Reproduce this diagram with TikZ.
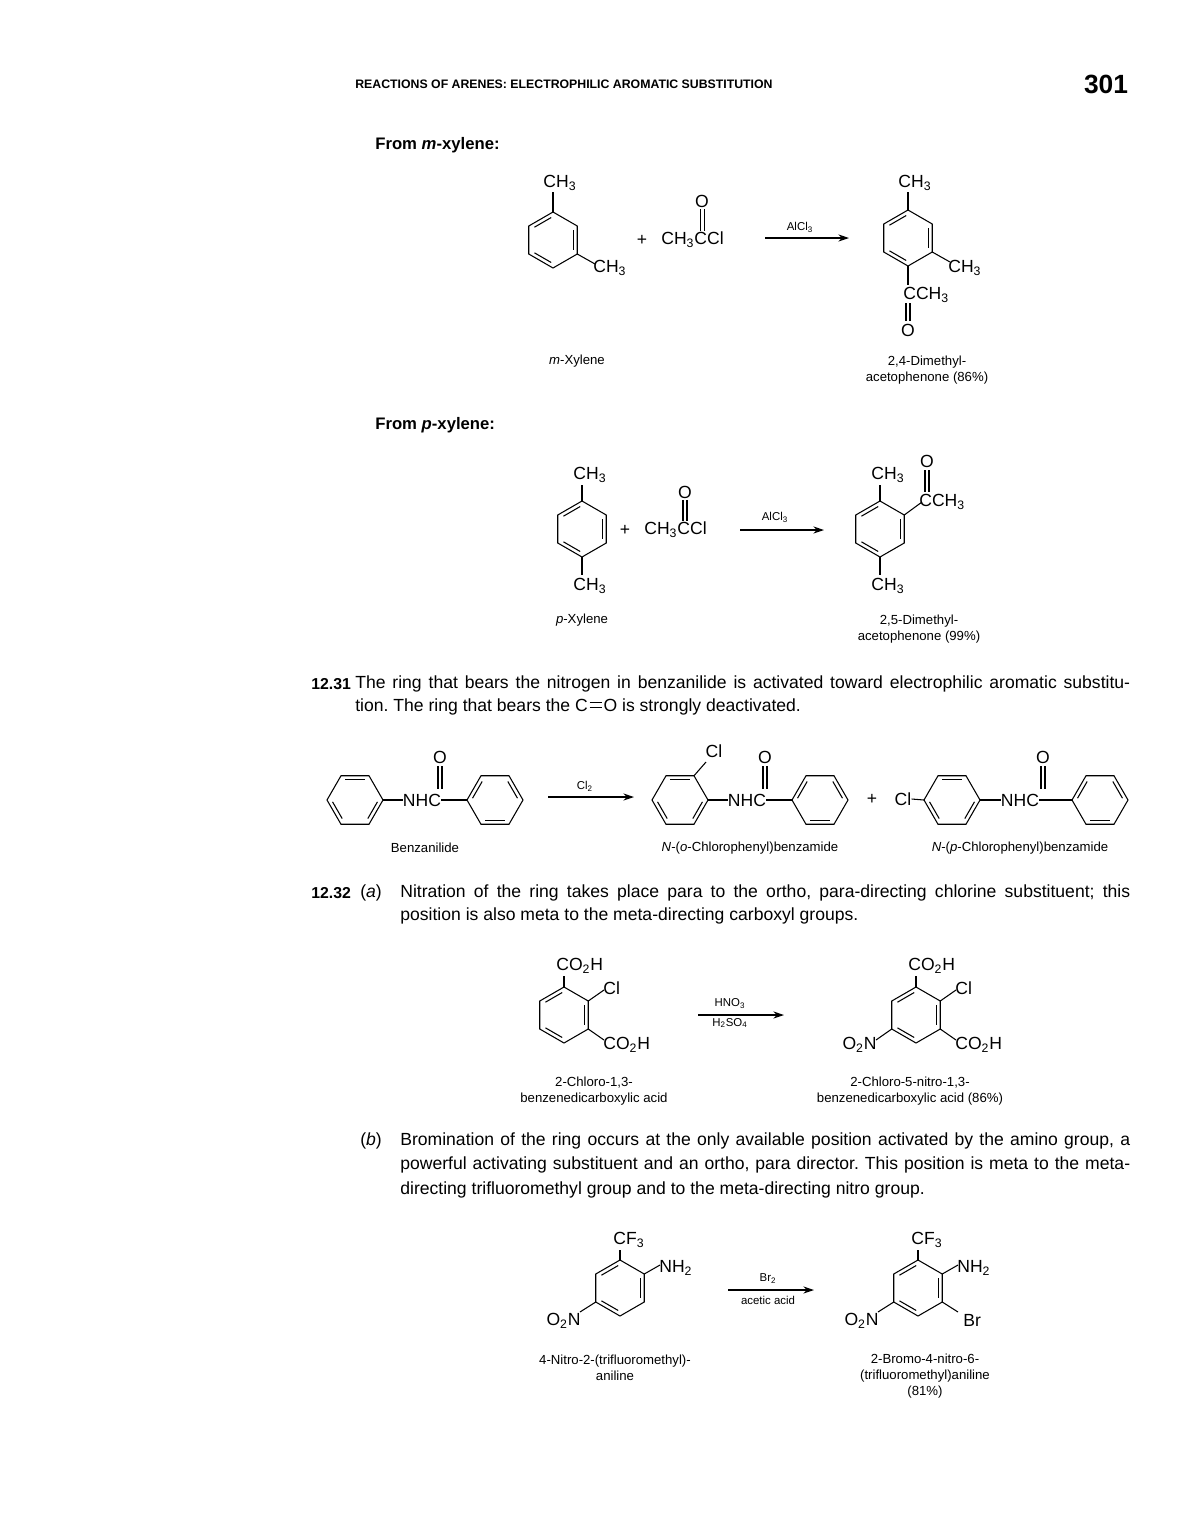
\documentclass[tikz,border=0pt]{standalone}
\usepackage{fontspec}
\setmainfont{Liberation Sans}
\usetikzlibrary{calc,arrows.meta}
\frenchspacing
\newcommand\benz[5]{%
  \coordinate (#1-c) at (#2,#3);
  \foreach \k in {0,...,5}{\coordinate (#1-\k) at ($(#2,#3)+(#4+60*\k:28)$);}
  \draw[bond] (#1-0)--(#1-1)--(#1-2)--(#1-3)--(#1-4)--(#1-5)--cycle;
  \foreach \k in {#5}{%
    \pgfmathtruncatemacro\kn{mod(\k+1,6)}%
    \draw[bond,shorten <=1.2pt,shorten >=1.2pt] ($(#1-\k)!0.16!(#1-c)$) -- ($(#1-\kn)!0.16!(#1-c)$);}%
}
\newcommand\sub[1]{\textsubscript{#1}}
\tikzset{bond/.style={line width=0.6pt},
 lab/.style={font=\fontsize{10}{12}\selectfont,inner sep=0pt},
 nm/.style={font=\fontsize{7.5}{9}\selectfont,inner sep=0pt},
 cond/.style={font=\fontsize{6.5}{8}\selectfont,inner sep=0pt},
 body/.style={font=\fontsize{10}{12}\selectfont,anchor=west,inner sep=0pt},
 num/.style={font=\bfseries\fontsize{9}{11}\selectfont,anchor=west,inner sep=0pt},
 rxn/.style={line width=0.7pt,-{Stealth[length=6pt,width=4pt]}}}
\begin{document}
\begin{tikzpicture}[x=0.02cm,y=-0.02cm]
\useasboundingbox[fill=white] (0,0) rectangle (1200,1536);
% header
\node[anchor=west,inner sep=0pt,font=\bfseries\fontsize{7}{8}\selectfont] (hdr) at (355,84) {REACTIONS OF ARENES: ELECTROPHILIC AROMATIC SUBSTITUTION};
\node[inner sep=0pt,font=\bfseries\fontsize{15}{16}\selectfont] (pg) at (1106,84) {301};
\node[body,font=\bfseries\fontsize{9.5}{11}\selectfont] (fm) at (375,145) {From \textit{m}-xylene:};
% m-xylene
\benz{A}{553}{240}{-90}{1,3,5}
\coordinate (A0e) at (553,192); \draw[bond] (A-0)--(A0e);
\node[lab] (Am1) at (560,183) {CH\sub3};
\coordinate (A2e) at (595,264); \draw[bond] (A-2)--(A2e);
\node[lab,anchor=west] (Am2) at (593,268) {CH\sub3};
\node[lab] (p1) at (642,240) {+};
\node[lab,anchor=west] (ac1) at (661,240) {CH\sub3CCl};
\node[lab] (ac1o) at (702,201) {O};
\draw[bond] (700.5,209)--(700.5,231) (704.5,209)--(704.5,231);
\node (ar1s) at (765,238) {}; \node (ar1e) at (849,238) {};
\draw[rxn] (ar1s.center)--(ar1e.center);
\node[cond] (c1) at (800,227) {AlCl\sub3};
\benz{B}{908}{238}{-90}{1,3,5}
\coordinate (B0e) at (908,192); \draw[bond] (B-0)--(B0e);
\node[lab] (Bm1) at (915,183) {CH\sub3};
\coordinate (B2e) at (950,262); \draw[bond] (B-2)--(B2e);
\node[lab,anchor=west] (Bm2) at (948,268) {CH\sub3};
\coordinate (B3e) at (908,285); \draw[bond] (B-3)--(B3e);
\node[lab,anchor=west] (Bk) at (903,295) {CCH\sub3};
\draw[bond] (906,303)--(906,321) (910,303)--(910,321);
\node[lab] (Bo) at (908,330) {O};
\node[nm] (nA) at (577,361) {\textit{m}-Xylene};
\node[nm,align=center] (nB) at (927,370) {2,4-Dimethyl-\\acetophenone (86\%)};
% p-xylene
\node[body,font=\bfseries\fontsize{9.5}{11}\selectfont] (fp) at (375,425) {From \textit{p}-xylene:};
\benz{C}{582}{529}{-90}{1,3,5}
\coordinate (C0e) at (582,485); \draw[bond] (C-0)--(C0e);
\node[lab] (Cm1) at (590,475) {CH\sub3};
\coordinate (C3e) at (582,575); \draw[bond] (C-3)--(C3e);
\node[lab] (Cm2) at (590,586) {CH\sub3};
\node[lab] (p2) at (625,530) {+};
\node[lab,anchor=west] (ac2) at (644,530) {CH\sub3CCl};
\node[lab] (ac2o) at (685,492) {O};
\draw[bond] (683,500)--(683,521) (687,500)--(687,521);
\node (ar2s) at (740,530) {}; \node (ar2e) at (824,530) {};
\draw[rxn] (ar2s.center)--(ar2e.center);
\node[cond] (c2) at (775,517) {AlCl\sub3};
\benz{D}{880}{529}{-90}{1,3,5}
\coordinate (D0e) at (880,485); \draw[bond] (D-0)--(D0e);
\node[lab] (Dm1) at (888,475) {CH\sub3};
\coordinate (D3e) at (880,575); \draw[bond] (D-3)--(D3e);
\node[lab] (Dm2) at (888,586) {CH\sub3};
\coordinate (D1e) at (922,502); \draw[bond] (D-1)--(D1e);
\node[lab,anchor=west] (Dk) at (919,502) {CCH\sub3};
\draw[bond] (925,470)--(925,492) (929,470)--(929,492);
\node[lab] (Do) at (927,461) {O};
\node[nm] (nC) at (582,620) {\textit{p}-Xylene};
\node[nm,align=center] (nD) at (919,629) {2,5-Dimethyl-\\acetophenone (99\%)};
% 12.31
\node[num] (n1231) at (311,684) {12.31};
\node[body] (t1) at (355,684) {\makebox[15.5cm][s]{The ring that bears the nitrogen in benzanilide is activated toward electrophilic aromatic substitu-}};
\node[body] (t2) at (355,707) {tion. The ring that bears the C\kern1pt\raisebox{0.4ex}{\rule{7pt}{0.4pt}}\kern-7pt\raisebox{0.9ex}{\rule{7pt}{0.4pt}}\kern1pt O is strongly deactivated.};
% benzanilide
\benz{E}{355}{800}{0}{0,2,4}
\node[lab] (E1) at (422,800) {NHC};
\draw[bond] (E-0)--(E1.west);
\node[lab] (Eo) at (440,757) {O};
\draw[bond] (438,766)--(438,789) (442,766)--(442,789);
\benz{F}{495}{800}{0}{1,3,5}
\draw[bond] (E1.east)--(F-3);
\node (ar3s) at (548,797) {}; \node (ar3e) at (634,797) {};
\draw[rxn] (ar3s.center)--(ar3e.center);
\node[cond] (c3) at (585,786) {Cl\sub2};
\benz{G}{680}{800}{0}{0,2,4}
\coordinate (G5e) at (706,762); \draw[bond] (G-5)--(G5e);
\node[lab] (Gcl) at (714,751) {Cl};
\node[lab] (G1) at (747,800) {NHC};
\draw[bond] (G-0)--(G1.west);
\node[lab] (Go) at (765,757) {O};
\draw[bond] (763,766)--(763,789) (767,766)--(767,789);
\benz{H}{820}{800}{0}{1,3,5}
\draw[bond] (G1.east)--(H-3);
\node[lab] (p3) at (872,799) {+};
\node[lab] (Icl) at (903,799) {Cl};
\benz{I}{952}{800}{0}{0,2,4}
\draw[bond] (Icl.east)--(I-3);
\node[lab] (I1) at (1020,800) {NHC};
\draw[bond] (I-0)--(I1.west);
\node[lab] (Io) at (1043,757) {O};
\draw[bond] (1041,766)--(1041,789) (1045,766)--(1045,789);
\benz{J}{1100}{800}{0}{1,3,5}
\draw[bond] (I1.east)--(J-3);
\node[nm] (nE) at (425,848) {Benzanilide};
\node[nm] (nG) at (750,848) {\textit{N}-(\textit{o}-Chlorophenyl)benzamide};
\node[nm] (nI) at (1020,848) {\textit{N}-(\textit{p}-Chlorophenyl)benzamide};
% 12.32 a
\node[num] (n1232) at (311,893) {12.32};
\node[body] (ta) at (360,893) {(\textit{a})};
\node[body] (t3) at (400,893) {\makebox[14.6cm][s]{Nitration of the ring takes place para to the ortho, para-directing chlorine substituent; this}};
\node[body] (t4) at (400,916) {position is also meta to the meta-directing carboxyl groups.};
\benz{K}{564}{1015}{-90}{1,3,5}
\coordinate (K0e) at (564,976); \draw[bond] (K-0)--(K0e);
\node[lab,anchor=west] (Kt) at (556,966) {CO\sub2H};
\coordinate (K1e) at (604,990); \draw[bond] (K-1)--(K1e);
\node[lab,anchor=west] (Kcl) at (603,988) {Cl};
\coordinate (K2e) at (604,1040); \draw[bond] (K-2)--(K2e);
\node[lab,anchor=west] (Kb) at (603,1045) {CO\sub2H};
\node (ar4s) at (698,1015) {}; \node (ar4e) at (784,1015) {};
\draw[rxn] (ar4s.center)--(ar4e.center);
\node[cond] (c4a) at (730,1004) {HNO\sub3};
\node[cond] (c4b) at (730,1023) {H\sub2SO\sub4};
\benz{L}{916}{1015}{-90}{1,3,5}
\coordinate (L0e) at (916,976); \draw[bond] (L-0)--(L0e);
\node[lab,anchor=west] (Lt) at (908,966) {CO\sub2H};
\coordinate (L1e) at (956,990); \draw[bond] (L-1)--(L1e);
\node[lab,anchor=west] (Lcl) at (955,988) {Cl};
\coordinate (L2e) at (956,1040); \draw[bond] (L-2)--(L2e);
\node[lab,anchor=west] (Lb) at (955,1045) {CO\sub2H};
\coordinate (L4e) at (876,1040); \draw[bond] (L-4)--(L4e);
\node[lab,anchor=east] (Ln) at (877,1045) {O\sub2N};
\node[nm,align=center] (nK) at (594,1091) {2-Chloro-1,3-\\benzenedicarboxylic acid};
\node[nm,align=center] (nL) at (910,1091) {2-Chloro-5-nitro-1,3-\\benzenedicarboxylic acid (86\%)};
% b
\node[body] (tb) at (360,1141) {(\textit{b})};
\node[body] (t5) at (400,1141) {\makebox[14.6cm][s]{Bromination of the ring occurs at the only available position activated by the amino group, a}};
\node[body] (t6) at (400,1165) {\makebox[14.6cm][s]{powerful activating substituent and an ortho, para director. This position is meta to the meta-}};
\node[body] (t7) at (400,1190) {directing trifluoromethyl group and to the meta-directing nitro group.};
\benz{M}{620}{1288}{-90}{1,3,5}
\coordinate (M0e) at (620,1250); \draw[bond] (M-0)--(M0e);
\node[lab,anchor=west] (Mt) at (613,1240) {CF\sub3};
\coordinate (M1e) at (660,1265); \draw[bond] (M-1)--(M1e);
\node[lab,anchor=west] (Mn) at (659,1268) {NH\sub2};
\coordinate (M4e) at (580,1312); \draw[bond] (M-4)--(M4e);
\node[lab,anchor=east] (Mo) at (581,1321) {O\sub2N};
\node (ar5s) at (728,1290) {}; \node (ar5e) at (814,1290) {};
\draw[rxn] (ar5s.center)--(ar5e.center);
\node[cond] (c5a) at (768,1279) {Br\sub2};
\node[cond] (c5b) at (768,1300) {acetic acid};
\benz{N}{918}{1288}{-90}{1,3,5}
\coordinate (N0e) at (918,1250); \draw[bond] (N-0)--(N0e);
\node[lab,anchor=west] (Nt) at (911,1240) {CF\sub3};
\coordinate (N1e) at (958,1265); \draw[bond] (N-1)--(N1e);
\node[lab,anchor=west] (Nn) at (957,1268) {NH\sub2};
\coordinate (N4e) at (878,1312); \draw[bond] (N-4)--(N4e);
\node[lab,anchor=east] (No) at (879,1321) {O\sub2N};
\coordinate (N2e) at (958,1312); \draw[bond] (N-2)--(N2e);
\node[lab,anchor=west] (Nbr) at (963,1320) {Br};
\node[nm,align=center] (nM) at (615,1368) {4-Nitro-2-(trifluoromethyl)-\\aniline};
\node[nm,align=center] (nN) at (925,1376) {2-Bromo-4-nitro-6-\\(trifluoromethyl)aniline\\(81\%)};
\end{tikzpicture}
\end{document}
